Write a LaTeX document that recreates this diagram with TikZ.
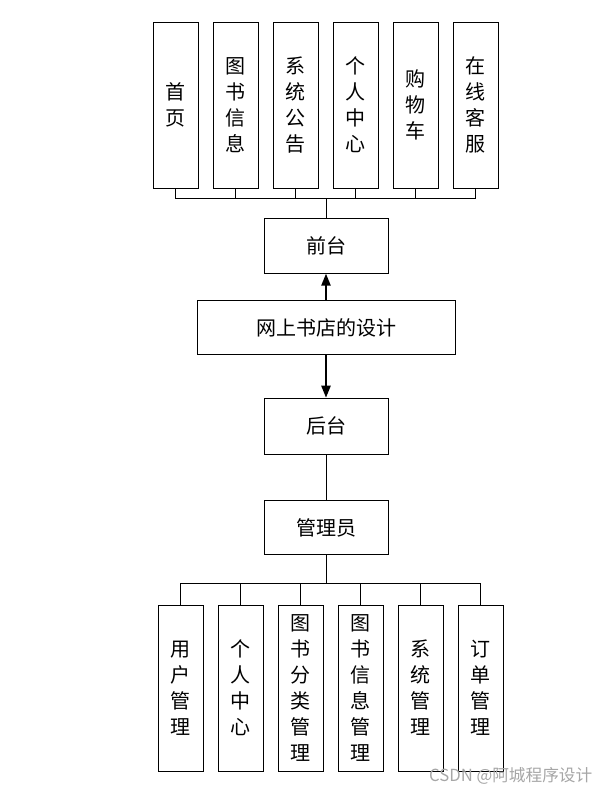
\documentclass[tikz,border=0pt]{standalone}
\usepackage{fontspec}
\newfontfamily\cjk{Noto Sans CJK SC}
\usetikzlibrary{arrows.meta}
\tikzset{
 vbox/.style={draw,line width=0.6pt,minimum width=33.75pt,minimum height=124.5pt,align=center,font=\cjk\fontsize{15}{19.5}\selectfont,inner sep=0pt},
 hbox/.style={draw,line width=0.6pt,minimum width=93pt,minimum height=41pt,font=\cjk\fontsize{15}{16}\selectfont,inner sep=0pt},
 ln/.style={line width=0.6pt},
 arr/.style={line width=1.2pt,-{Triangle[length=9pt,width=7pt]}}
}
\begin{document}
\begin{tikzpicture}[x=0.75pt,y=-0.75pt]
\useasboundingbox (0,0) rectangle (610,796);
% top
\node[vbox] (t1) at (175.5,105) {首\\页};
\node[vbox] (t2) at (235.5,105) {图\\书\\信\\息};
\node[vbox] (t3) at (295.5,105) {系\\统\\公\\告};
\node[vbox] (t4) at (355.5,105) {个\\人\\中\\心};
\node[vbox] (t5) at (415.5,105) {购\\物\\车};
\node[vbox] (t6) at (475.5,105) {在\\线\\客\\服};
\node[hbox] (qt) at (326,246) {前台};
\node[hbox,minimum width=193.5pt] (main) at (326,327.5) {网上书店的设计};
\node[hbox,minimum height=42pt] (ht) at (326,426) {后台};
\node[hbox] (gly) at (326,527.5) {管理员};
\coordinate (tb) at (326,198);
\draw[ln] (t1.south) |- (t6.south |- tb) -- (t6.south);
\foreach \n in {t2,t3,t4,t5} \draw[ln] (\n.south) -- (\n.south |- tb);
\draw[ln] (tb) -- (qt.north);
\draw[arr] (main.north) -- (qt.south);
\draw[arr] (main.south) -- (ht.north);
\draw[ln] (ht.south) -- (gly.north);
% bottom
\node[vbox] (b1) at (180.5,688) {用\\户\\管\\理};
\node[vbox] (b2) at (240.5,688) {个\\人\\中\\心};
\node[vbox] (b3) at (300.5,688) {图\\书\\分\\类\\管\\理};
\node[vbox] (b4) at (360.5,688) {图\\书\\信\\息\\管\\理};
\node[vbox] (b5) at (420.5,688) {系\\统\\管\\理};
\node[vbox] (b6) at (480.5,688) {订\\单\\管\\理};
\coordinate (bb) at (326,583);
\draw[ln] (gly.south) -- (bb);
\draw[ln] (b1.north) |- (b6.north |- bb) -- (b6.north);
\foreach \n in {b2,b3,b4,b5} \draw[ln] (\n.north) -- (\n.north |- bb);
\node[text=gray!70,font=\cjk\fontsize{12.5}{13}\selectfont,anchor=east] (wm) at (597,776) {CSDN @阿城程序设计};
\end{tikzpicture}
\end{document}
